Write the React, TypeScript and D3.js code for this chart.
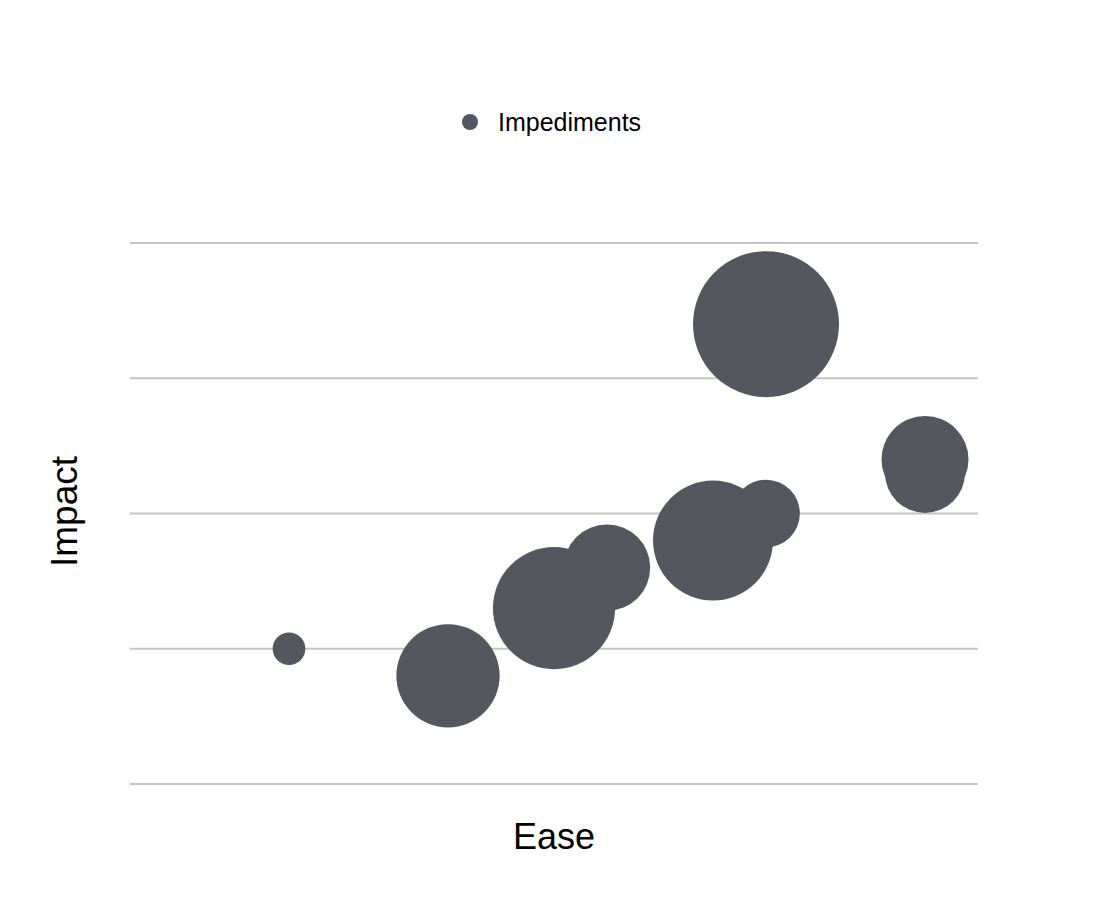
import React, { useRef, useEffect } from "react";
import { select, scaleLinear, scaleSqrt, range } from "d3";

// data
const seriesName = "Impediments";
const ease = [3, 6, 8, 9, 11, 12, 12, 15, 15];
const impact = [1.0, 0.8, 1.3, 1.6, 1.8, 2.0, 3.4, 2.4, 2.3];
const size = [1, 10, 14, 7, 13.5, 4.3, 20, 7.1, 6];
const xTitle = "Ease";
const yTitle = "Impact";

const WIDTH = 1100;
const HEIGHT = 902;
const margin = { top: 243, right: 122, bottom: 118, left: 130 };
const FONT = "'Liberation Sans', Arial, Helvetica, sans-serif";
const BUBBLE = "#54575e";

const App: React.FC = () => {
  const svgRef = useRef<SVGSVGElement>(null);

  useEffect(() => {
    const svg = select(svgRef.current);
    svg.selectAll("*").remove();

    const innerWidth = WIDTH - margin.left - margin.right;
    const innerHeight = HEIGHT - margin.top - margin.bottom;

    const xScale = scaleLinear().domain([0, 16]).range([0, innerWidth]);
    const yScale = scaleLinear().domain([0, 4]).range([innerHeight, 0]);
    const rScale = scaleSqrt().domain([0, 20]).range([0, 73]);

    const g = svg
      .append("g")
      .attr("transform", `translate(${margin.left},${margin.top})`);

    // gridlines
    g.append("g")
      .selectAll("line")
      .data(yScale.ticks(4))
      .join("line")
      .attr("x1", 0)
      .attr("x2", innerWidth)
      .attr("y1", (d) => yScale(d))
      .attr("y2", (d) => yScale(d))
      .attr("stroke", "#c4c4c4")
      .attr("stroke-width", 2);

    // bubbles
    g.append("g")
      .selectAll("circle")
      .data(range(ease.length))
      .join("circle")
      .attr("cx", (i) => xScale(ease[i]))
      .attr("cy", (i) => yScale(impact[i]))
      .attr("r", (i) => rScale(size[i]))
      .attr("fill", BUBBLE);

    // axis titles
    svg
      .append("text")
      .attr("x", margin.left + innerWidth / 2)
      .attr("y", 849)
      .attr("text-anchor", "middle")
      .attr("font-family", FONT)
      .attr("font-size", 36)
      .attr("fill", "#000")
      .text(xTitle);

    svg
      .append("text")
      .attr("transform", `translate(77,${margin.top + innerHeight / 2 - 2}) rotate(-90)`)
      .attr("text-anchor", "middle")
      .attr("font-family", FONT)
      .attr("font-size", 37)
      .attr("fill", "#000")
      .text(yTitle);

    // legend
    const legend = svg.append("g").attr("transform", "translate(470,122)");
    legend.append("circle").attr("r", 8).attr("fill", BUBBLE);
    legend
      .append("text")
      .attr("x", 28)
      .attr("y", 9)
      .attr("font-family", FONT)
      .attr("font-size", 25)
      .attr("fill", "#000")
      .text(seriesName);
  }, []);

  return (
    <svg
      ref={svgRef}
      width={WIDTH}
      height={HEIGHT}
      viewBox={`0 0 ${WIDTH} ${HEIGHT}`}
      style={{ position: "absolute", left: 0, top: 0, background: "#fff" }}
    />
  );
};

export default App;
